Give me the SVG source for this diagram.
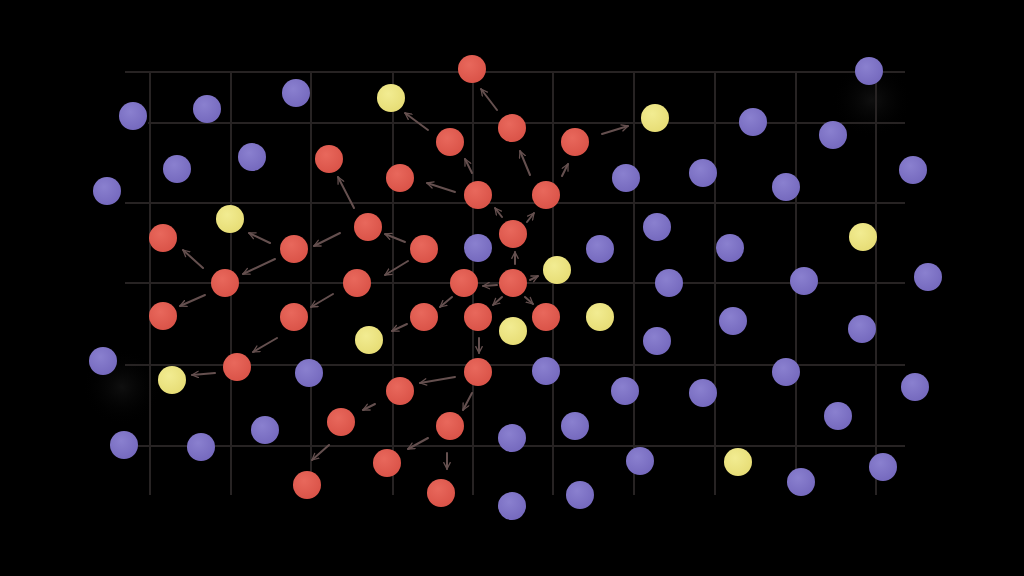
<svg xmlns="http://www.w3.org/2000/svg" width="1024" height="576" viewBox="0 0 1024 576">
<defs>
<radialGradient id="gp" cx="0.4" cy="0.35" r="0.7"><stop offset="0" stop-color="#8a80cf"/><stop offset="1" stop-color="#7468bd"/></radialGradient>
<radialGradient id="gr" cx="0.4" cy="0.35" r="0.7"><stop offset="0" stop-color="#e8685c"/><stop offset="1" stop-color="#d95247"/></radialGradient>
<radialGradient id="gy" cx="0.4" cy="0.35" r="0.7"><stop offset="0" stop-color="#f2ec92"/><stop offset="1" stop-color="#e6dc74"/></radialGradient>
<radialGradient id="glow" cx="0.5" cy="0.5" r="0.5"><stop offset="0" stop-color="#131313" stop-opacity="0.8"/><stop offset="1" stop-color="#000" stop-opacity="0"/></radialGradient>
<marker id="ah" viewBox="0 0 10 10" refX="9" refY="5" markerWidth="8" markerHeight="8" markerUnits="userSpaceOnUse" orient="auto"><path d="M1,1 L9,5 L1,9" fill="none" stroke="#65504f" stroke-width="1.6" stroke-linecap="round" stroke-linejoin="round"/></marker>
</defs>
<style>
.grid line{stroke:#272323;stroke-width:2}
.p{fill:url(#gp)}
.r{fill:url(#gr)}
.y{fill:url(#gy)}
.conn line{stroke:#65504f;stroke-width:2;stroke-linecap:round;marker-end:url(#ah)}
</style>
<rect width="1024" height="576" fill="#000"/>
<ellipse cx="872" cy="100" rx="40" ry="38" fill="url(#glow)"/>
<ellipse cx="122" cy="387" rx="40" ry="38" fill="url(#glow)"/>
<g class="grid">
<line x1="125" y1="72" x2="905" y2="72"/>
<line x1="148" y1="123" x2="905" y2="123"/>
<line x1="125" y1="203" x2="905" y2="203"/>
<line x1="125" y1="283" x2="905" y2="283"/>
<line x1="125" y1="365" x2="905" y2="365"/>
<line x1="125" y1="446" x2="905" y2="446"/>
<line x1="150" y1="72" x2="150" y2="495"/>
<line x1="231" y1="72" x2="231" y2="495"/>
<line x1="311" y1="72" x2="311" y2="495"/>
<line x1="393" y1="72" x2="393" y2="495"/>
<line x1="473" y1="72" x2="473" y2="495"/>
<line x1="553" y1="72" x2="553" y2="495"/>
<line x1="634" y1="72" x2="634" y2="495"/>
<line x1="715" y1="72" x2="715" y2="495"/>
<line x1="796" y1="72" x2="796" y2="495"/>
<line x1="876" y1="72" x2="876" y2="495"/>
</g>
<g class="conn" id="connectors">
<line x1="497" y1="285" x2="483" y2="286"/>
<line x1="515" y1="264" x2="515" y2="252"/>
<line x1="530" y1="280" x2="538" y2="276"/>
<line x1="502" y1="297" x2="493" y2="305"/>
<line x1="525" y1="297" x2="533" y2="304"/>
<line x1="502" y1="217" x2="495" y2="208"/>
<line x1="527" y1="222" x2="534" y2="213"/>
<line x1="472" y1="173" x2="465" y2="159"/>
<line x1="455" y1="192" x2="427" y2="183"/>
<line x1="530" y1="175" x2="520" y2="151"/>
<line x1="562" y1="176" x2="568" y2="164"/>
<line x1="497" y1="110" x2="481" y2="89"/>
<line x1="428" y1="130" x2="405" y2="113"/>
<line x1="602" y1="134" x2="628" y2="126"/>
<line x1="452" y1="297" x2="440" y2="307"/>
<line x1="405" y1="242" x2="385" y2="234"/>
<line x1="408" y1="261" x2="385" y2="275"/>
<line x1="407" y1="324" x2="392" y2="331"/>
<line x1="479" y1="338" x2="479" y2="353"/>
<line x1="354" y1="208" x2="338" y2="177"/>
<line x1="340" y1="233" x2="314" y2="246"/>
<line x1="333" y1="294" x2="311" y2="307"/>
<line x1="270" y1="243" x2="249" y2="233"/>
<line x1="275" y1="259" x2="243" y2="274"/>
<line x1="203" y1="268" x2="183" y2="250"/>
<line x1="205" y1="295" x2="180" y2="306"/>
<line x1="277" y1="338" x2="253" y2="352"/>
<line x1="215" y1="373" x2="192" y2="375"/>
<line x1="455" y1="377" x2="420" y2="383"/>
<line x1="472" y1="393" x2="463" y2="410"/>
<line x1="375" y1="404" x2="363" y2="410"/>
<line x1="428" y1="438" x2="408" y2="449"/>
<line x1="447" y1="453" x2="447" y2="469"/>
<line x1="329" y1="445" x2="312" y2="460"/>
</g>
<g id="purple">
<g id="p1"><circle class="p" cx="133" cy="116" r="14"/></g>
<g id="p2"><circle class="p" cx="207" cy="109" r="14"/></g>
<g id="p3"><circle class="p" cx="296" cy="93" r="14"/></g>
<g id="p4"><circle class="p" cx="177" cy="169" r="14"/></g>
<g id="p5"><circle class="p" cx="252" cy="157" r="14"/></g>
<g id="p6"><circle class="p" cx="107" cy="191" r="14"/></g>
<g id="p7"><circle class="p" cx="869" cy="71" r="14"/></g>
<g id="p8"><circle class="p" cx="753" cy="122" r="14"/></g>
<g id="p9"><circle class="p" cx="833" cy="135" r="14"/></g>
<g id="p10"><circle class="p" cx="626" cy="178" r="14"/></g>
<g id="p11"><circle class="p" cx="703" cy="173" r="14"/></g>
<g id="p12"><circle class="p" cx="786" cy="187" r="14"/></g>
<g id="p13"><circle class="p" cx="913" cy="170" r="14"/></g>
<g id="p14"><circle class="p" cx="478" cy="248" r="14"/></g>
<g id="p15"><circle class="p" cx="600" cy="249" r="14"/></g>
<g id="p16"><circle class="p" cx="657" cy="227" r="14"/></g>
<g id="p17"><circle class="p" cx="730" cy="248" r="14"/></g>
<g id="p18"><circle class="p" cx="669" cy="283" r="14"/></g>
<g id="p19"><circle class="p" cx="804" cy="281" r="14"/></g>
<g id="p20"><circle class="p" cx="928" cy="277" r="14"/></g>
<g id="p21"><circle class="p" cx="733" cy="321" r="14"/></g>
<g id="p22"><circle class="p" cx="862" cy="329" r="14"/></g>
<g id="p23"><circle class="p" cx="657" cy="341" r="14"/></g>
<g id="p24"><circle class="p" cx="103" cy="361" r="14"/></g>
<g id="p25"><circle class="p" cx="309" cy="373" r="14"/></g>
<g id="p26"><circle class="p" cx="546" cy="371" r="14"/></g>
<g id="p27"><circle class="p" cx="625" cy="391" r="14"/></g>
<g id="p28"><circle class="p" cx="703" cy="393" r="14"/></g>
<g id="p29"><circle class="p" cx="786" cy="372" r="14"/></g>
<g id="p30"><circle class="p" cx="915" cy="387" r="14"/></g>
<g id="p31"><circle class="p" cx="124" cy="445" r="14"/></g>
<g id="p32"><circle class="p" cx="201" cy="447" r="14"/></g>
<g id="p33"><circle class="p" cx="265" cy="430" r="14"/></g>
<g id="p34"><circle class="p" cx="512" cy="438" r="14"/></g>
<g id="p35"><circle class="p" cx="575" cy="426" r="14"/></g>
<g id="p36"><circle class="p" cx="838" cy="416" r="14"/></g>
<g id="p37"><circle class="p" cx="640" cy="461" r="14"/></g>
<g id="p38"><circle class="p" cx="512" cy="506" r="14"/></g>
<g id="p39"><circle class="p" cx="580" cy="495" r="14"/></g>
<g id="p40"><circle class="p" cx="801" cy="482" r="14"/></g>
<g id="p41"><circle class="p" cx="883" cy="467" r="14"/></g>
</g>
<g id="yellow">
<g id="y1"><circle class="y" cx="391" cy="98" r="14"/></g>
<g id="y2"><circle class="y" cx="655" cy="118" r="14"/></g>
<g id="y3"><circle class="y" cx="230" cy="219" r="14"/></g>
<g id="y4"><circle class="y" cx="863" cy="237" r="14"/></g>
<g id="y5"><circle class="y" cx="557" cy="270" r="14"/></g>
<g id="y6"><circle class="y" cx="600" cy="317" r="14"/></g>
<g id="y7"><circle class="y" cx="369" cy="340" r="14"/></g>
<g id="y8"><circle class="y" cx="513" cy="331" r="14"/></g>
<g id="y9"><circle class="y" cx="172" cy="380" r="14"/></g>
<g id="y10"><circle class="y" cx="738" cy="462" r="14"/></g>
</g>
<g id="red">
<g id="r1"><circle class="r" cx="472" cy="69" r="14"/></g>
<g id="r2"><circle class="r" cx="512" cy="128" r="14"/></g>
<g id="r3"><circle class="r" cx="450" cy="142" r="14"/></g>
<g id="r4"><circle class="r" cx="575" cy="142" r="14"/></g>
<g id="r5"><circle class="r" cx="329" cy="159" r="14"/></g>
<g id="r6"><circle class="r" cx="400" cy="178" r="14"/></g>
<g id="r7"><circle class="r" cx="478" cy="195" r="14"/></g>
<g id="r8"><circle class="r" cx="546" cy="195" r="14"/></g>
<g id="r9"><circle class="r" cx="368" cy="227" r="14"/></g>
<g id="r10"><circle class="r" cx="513" cy="234" r="14"/></g>
<g id="r11"><circle class="r" cx="163" cy="238" r="14"/></g>
<g id="r12"><circle class="r" cx="294" cy="249" r="14"/></g>
<g id="r13"><circle class="r" cx="424" cy="249" r="14"/></g>
<g id="r14"><circle class="r" cx="225" cy="283" r="14"/></g>
<g id="r15"><circle class="r" cx="357" cy="283" r="14"/></g>
<g id="r16"><circle class="r" cx="464" cy="283" r="14"/></g>
<g id="r17"><circle class="r" cx="513" cy="283" r="14"/></g>
<g id="r18"><circle class="r" cx="163" cy="316" r="14"/></g>
<g id="r19"><circle class="r" cx="294" cy="317" r="14"/></g>
<g id="r20"><circle class="r" cx="424" cy="317" r="14"/></g>
<g id="r21"><circle class="r" cx="478" cy="317" r="14"/></g>
<g id="r22"><circle class="r" cx="546" cy="317" r="14"/></g>
<g id="r23"><circle class="r" cx="237" cy="367" r="14"/></g>
<g id="r24"><circle class="r" cx="478" cy="372" r="14"/></g>
<g id="r25"><circle class="r" cx="400" cy="391" r="14"/></g>
<g id="r26"><circle class="r" cx="341" cy="422" r="14"/></g>
<g id="r27"><circle class="r" cx="450" cy="426" r="14"/></g>
<g id="r28"><circle class="r" cx="387" cy="463" r="14"/></g>
<g id="r29"><circle class="r" cx="307" cy="485" r="14"/></g>
<g id="r30"><circle class="r" cx="441" cy="493" r="14"/></g>
</g>
</svg>
